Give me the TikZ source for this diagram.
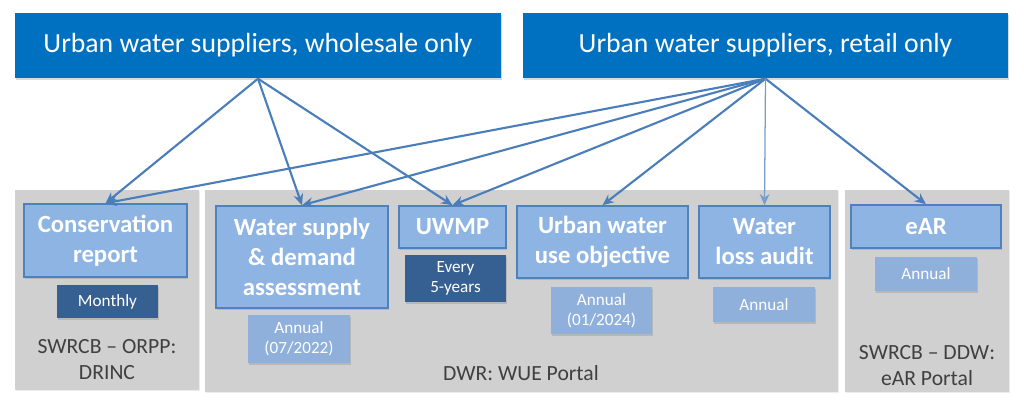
\documentclass[tikz,border=0pt]{standalone}
\usepackage{fontspec}
\setmainfont{Carlito}
\usetikzlibrary{arrows.meta, shadows}

\definecolor{topblue}{HTML}{0070C0}
\definecolor{boxfill}{HTML}{8DB4E3}
\definecolor{boxline}{HTML}{4F81BD}
\definecolor{freqfill}{HTML}{8EB0DB}
\definecolor{darkfill}{HTML}{366092}
\definecolor{panelgray}{HTML}{D0D0D0}
\definecolor{labelgray}{HTML}{404040}
\definecolor{linkblue}{HTML}{4A7EBB}

\begin{document}
\begin{tikzpicture}[line width=1pt,
  shade/.style={drop shadow={shadow xshift=1pt, shadow yshift=-1.5pt, opacity=0.3}},
  supplier/.style={fill=topblue, text=white, inner sep=0pt, shade,
    font=\fontsize{19.7}{23}\selectfont},
  panel/.style={fill=panelgray, inner sep=0pt,
    drop shadow={shadow xshift=1pt, shadow yshift=-1pt, opacity=0.15}},
  report/.style={fill=boxfill, draw=boxline, line width=1.1pt, text=white,
    inner sep=0pt, align=center, shade,
    font=\bfseries\fontsize{17.6}{21.3}\selectfont},
  often/.style={fill=freqfill, text=white, inner sep=0pt, align=center, shade,
    font=\fontsize{12.2}{14.2}\selectfont},
  oftendark/.style={often, fill=darkfill},
  portal/.style={text=labelgray, align=center,
    font=\fontsize{15.4}{18.5}\selectfont},
  link/.style={draw=linkblue, line width=1.5pt, -{Stealth[length=8pt, width=7pt]}}]

  % Page size
  \def\W{25.6}
  \def\H{10.225}
  \useasboundingbox (0,0) rectangle (\W,\H);

  % Supplier boxes
  \node[supplier, minimum width=12.15cm, minimum height=1.625cm] (whole) at (6.45,9.0875)
    {Urban water suppliers, wholesale only};
  \node[supplier, minimum width=12.125cm, minimum height=1.625cm] (retail) at (19.1375,9.0875)
    {Urban water suppliers, retail only};

  % Gray portal panels
  \node[panel, minimum width=4.6cm, minimum height=5cm] (orpp) at (2.675,2.975) {};
  \node[panel, minimum width=15.825cm, minimum height=5.05cm] (wue) at (13.0375,2.95) {};
  \node[panel, minimum width=4.1cm, minimum height=5.05cm] (ddw) at (23.175,2.95) {};

  \node[portal] (orpplabel) at (2.675,1.225) {SWRCB – ORPP:\\DRINC};
  \node[portal] (wuelabel) at (13.025,0.9) {DWR: WUE Portal};
  \node[portal] (ddwlabel) at (23.175,1.075) {SWRCB – DDW:\\eAR Portal};

  % Reports
  \node[report, minimum width=4.075cm, minimum height=1.825cm] (cons) at (2.6375,4.2125)
    {Conservation\\report};
  \node[report, minimum width=4.3cm, minimum height=2.55cm] (supply) at (7.55,3.8)
    {Water supply\\\& demand\\assessment};
  \node[report, minimum width=2.675cm, minimum height=1.05cm] (uwmp) at (11.3125,4.55)
    {UWMP};
  \node[report, minimum width=4.275cm, minimum height=1.8cm] (obj) at (15.0625,4.175)
    {Urban water\\use objective};
  \node[report, minimum width=3.275cm, minimum height=1.8cm] (loss) at (19.1125,4.175)
    {Water\\loss audit};
  \node[report, minimum width=3.75cm, minimum height=1.075cm] (ear) at (23.15,4.5625)
    {eAR};

  % How often each report is due
  \node[oftendark, minimum width=2.525cm, minimum height=0.825cm] (consdue) at (2.6875,2.6875)
    {Monthly};
  \node[often, minimum width=2.55cm, minimum height=1.2cm] (supplydue) at (7.475,1.75)
    {Annual\\(07/2022)};
  \node[oftendark, minimum width=2.525cm, minimum height=1.175cm] (uwmpdue) at (11.3875,3.2625)
    {Every\\5-years};
  \node[often, minimum width=2.525cm, minimum height=1.175cm] (objdue) at (15.0375,2.4625)
    {Annual\\(01/2024)};
  \node[often, minimum width=2.55cm, minimum height=0.875cm] (lossdue) at (19.1,2.6125)
    {Annual};
  \node[often, minimum width=2.55cm, minimum height=0.85cm] (eardue) at (23.15,3.375)
    {Annual};

  % Who files what
  \foreach \t in {cons, supply, uwmp} {
    \draw[link] (whole.south) -- (\t.north);
  }
  \foreach \t in {cons, supply, uwmp, obj, ear} {
    \draw[link] (retail.south) -- (\t.north);
  }
  \draw[link, line width=0.9pt, draw=linkblue!75] (retail.south) -- (loss.north);

\end{tikzpicture}
\end{document}
